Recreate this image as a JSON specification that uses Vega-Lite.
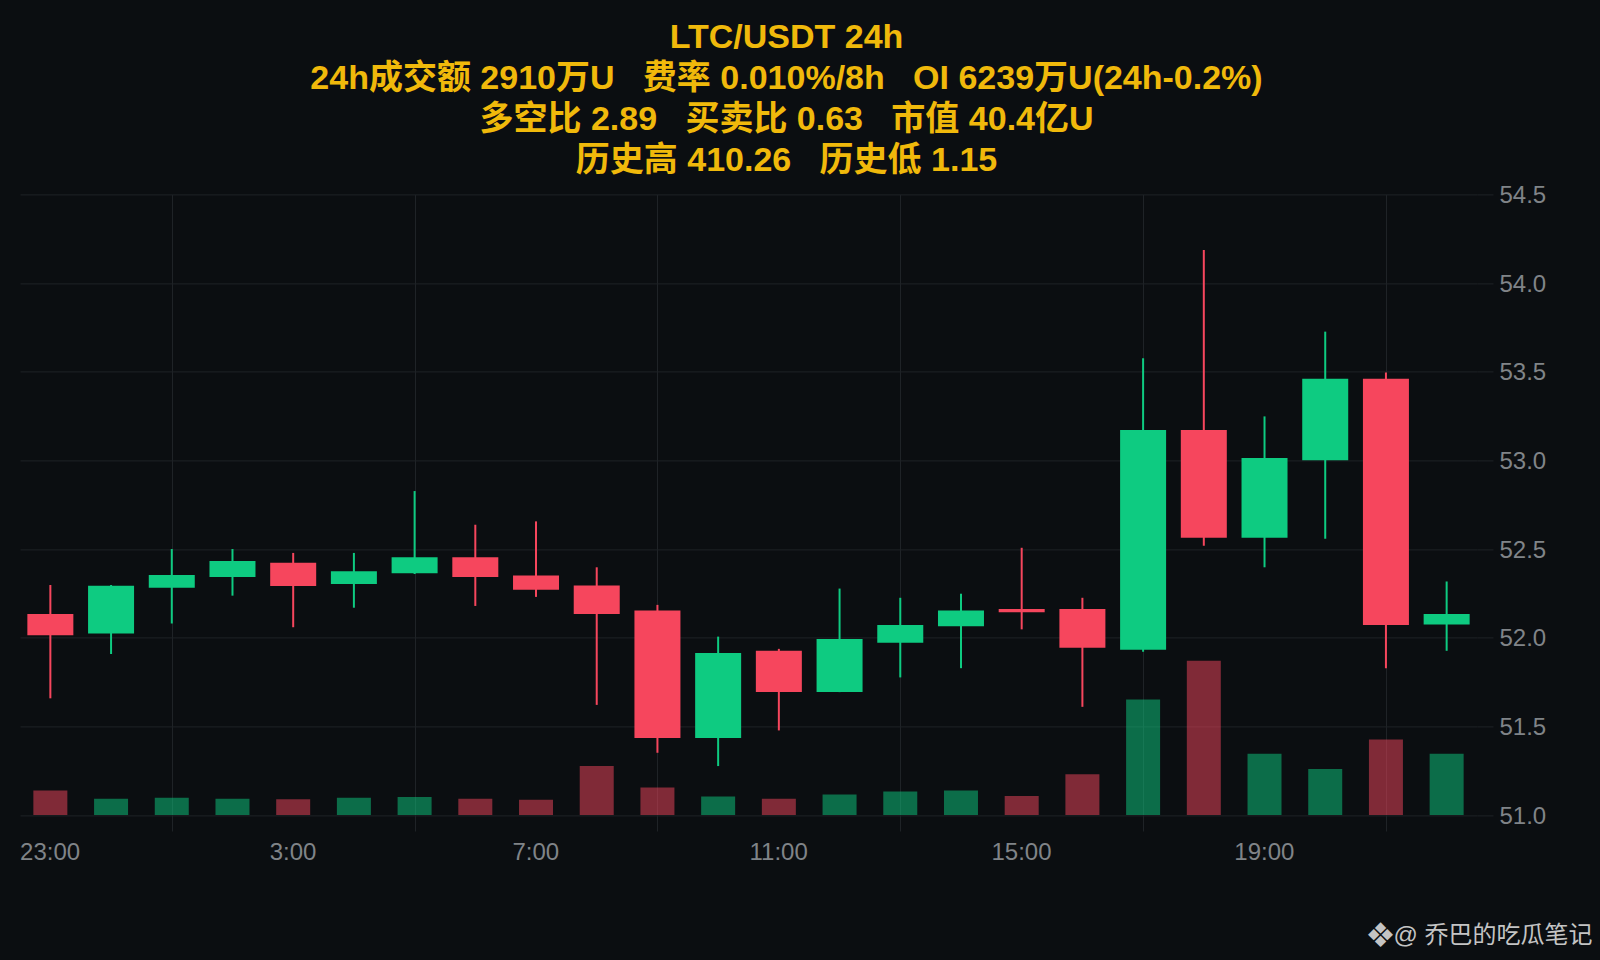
{
  "$schema": "https://vega.github.io/schema/vega-lite/v6.json",
  "width": 1457,
  "height": 620.6,
  "autosize": "none",
  "padding": {"left": 20, "top": 194.4, "right": 123, "bottom": 145},
  "background": "#0B0E11",
  "view": {"stroke": null},
  "config": {
    "font": "Liberation Sans, Noto Sans CJK SC, DejaVu Sans"
  },
  "title": {
    "text": [
      "LTC/USDT 24h",
      "24h成交额 2910万U\u00a0\u00a0\u00a0费率 0.010%/8h\u00a0\u00a0\u00a0OI 6239万U(24h-0.2%)",
      "多空比 2.89\u00a0\u00a0\u00a0买卖比 0.63\u00a0\u00a0\u00a0市值 40.4亿U",
      "历史高 410.26\u00a0\u00a0\u00a0历史低 1.15"
    ],
    "anchor": "middle",
    "frame": "group",
    "dx": 38,
    "offset": 5,
    "fontSize": 34,
    "fontWeight": "bold",
    "lineHeight": 41,
    "color": "#F0B90B"
  },
  "data": {
    "values": [
      {"t": "2024-01-01T23:00:00", "open": 52.134, "close": 52.014, "high": 52.297, "low": 51.658, "vol": 782, "dir": "down"},
      {"t": "2024-01-02T00:00:00", "open": 52.023, "close": 52.293, "high": 52.297, "low": 51.908, "vol": 522, "dir": "up"},
      {"t": "2024-01-02T01:00:00", "open": 52.282, "close": 52.354, "high": 52.5, "low": 52.08, "vol": 554, "dir": "up"},
      {"t": "2024-01-02T02:00:00", "open": 52.342, "close": 52.433, "high": 52.5, "low": 52.237, "vol": 522, "dir": "up"},
      {"t": "2024-01-02T03:00:00", "open": 52.423, "close": 52.292, "high": 52.478, "low": 52.059, "vol": 505, "dir": "down"},
      {"t": "2024-01-02T04:00:00", "open": 52.303, "close": 52.374, "high": 52.478, "low": 52.169, "vol": 554, "dir": "up"},
      {"t": "2024-01-02T05:00:00", "open": 52.363, "close": 52.453, "high": 52.827, "low": 52.359, "vol": 571, "dir": "up"},
      {"t": "2024-01-02T06:00:00", "open": 52.453, "close": 52.342, "high": 52.637, "low": 52.179, "vol": 522, "dir": "down"},
      {"t": "2024-01-02T07:00:00", "open": 52.351, "close": 52.271, "high": 52.656, "low": 52.23, "vol": 489, "dir": "down"},
      {"t": "2024-01-02T08:00:00", "open": 52.294, "close": 52.133, "high": 52.397, "low": 51.621, "vol": 1565, "dir": "down"},
      {"t": "2024-01-02T09:00:00", "open": 52.153, "close": 51.434, "high": 52.185, "low": 51.351, "vol": 880, "dir": "down"},
      {"t": "2024-01-02T10:00:00", "open": 51.434, "close": 51.914, "high": 52.006, "low": 51.276, "vol": 587, "dir": "up"},
      {"t": "2024-01-02T11:00:00", "open": 51.926, "close": 51.693, "high": 51.937, "low": 51.477, "vol": 522, "dir": "down"},
      {"t": "2024-01-02T12:00:00", "open": 51.693, "close": 51.992, "high": 52.277, "low": 51.693, "vol": 652, "dir": "up"},
      {"t": "2024-01-02T13:00:00", "open": 51.972, "close": 52.072, "high": 52.225, "low": 51.776, "vol": 750, "dir": "up"},
      {"t": "2024-01-02T14:00:00", "open": 52.064, "close": 52.153, "high": 52.248, "low": 51.828, "vol": 782, "dir": "up"},
      {"t": "2024-01-02T15:00:00", "open": 52.162, "close": 52.144, "high": 52.507, "low": 52.047, "vol": 603, "dir": "down"},
      {"t": "2024-01-02T16:00:00", "open": 52.162, "close": 51.943, "high": 52.225, "low": 51.61, "vol": 1304, "dir": "down"},
      {"t": "2024-01-02T17:00:00", "open": 51.932, "close": 53.171, "high": 53.576, "low": 51.92, "vol": 3684, "dir": "up"},
      {"t": "2024-01-02T18:00:00", "open": 53.171, "close": 52.564, "high": 54.186, "low": 52.518, "vol": 4923, "dir": "down"},
      {"t": "2024-01-02T19:00:00", "open": 52.564, "close": 53.013, "high": 53.248, "low": 52.397, "vol": 1956, "dir": "up"},
      {"t": "2024-01-02T20:00:00", "open": 53.001, "close": 53.461, "high": 53.726, "low": 52.558, "vol": 1467, "dir": "up"},
      {"t": "2024-01-02T21:00:00", "open": 53.461, "close": 52.072, "high": 53.496, "low": 51.828, "vol": 2412, "dir": "down"},
      {"t": "2024-01-02T22:00:00", "open": 52.075, "close": 52.133, "high": 52.317, "low": 51.926, "vol": 1956, "dir": "up"}
    ]
  },
  "resolve": {
    "scale": {"y": "independent"},
    "axis": {"x": "independent", "y": "independent"}
  },
  "layer": [
    {
      "mark": {"type": "bar", "width": 34, "opacity": 0.5},
      "encoding": {
        "x": {
          "field": "t",
          "type": "temporal",
          "scale": {
            "padding": 0,
            "domain": [
              {"year": 2024, "month": 1, "date": 1, "hours": 22, "minutes": 30},
              {"year": 2024, "month": 1, "date": 2, "hours": 22, "minutes": 30}
            ]
          },
          "axis": {
            "orient": "bottom",
            "values": [
              {"year": 2024, "month": 1, "date": 1, "hours": 23},
              {"year": 2024, "month": 1, "date": 2, "hours": 3},
              {"year": 2024, "month": 1, "date": 2, "hours": 7},
              {"year": 2024, "month": 1, "date": 2, "hours": 11},
              {"year": 2024, "month": 1, "date": 2, "hours": 15},
              {"year": 2024, "month": 1, "date": 2, "hours": 19}
            ],
            "format": "%-H:%M",
            "domain": false,
            "grid": false,
            "ticks": false,
            "labelPadding": 25,
            "labelOffset": -0.7,
            "labelFontSize": 24,
            "labelColor": "#808488",
            "labelOverlap": false,
            "labelFlush": false,
            "title": "@ 乔巴的吃瓜笔记",
            "titleFontSize": 24,
            "titleFontWeight": "normal",
            "titleColor": "#C4C4C4",
            "titleAlign": "right",
            "titleAnchor": null,
            "titleBaseline": "middle",
            "titleX": 1572,
            "titleY": 120
          }
        },
        "y": {
          "field": "vol",
          "type": "quantitative",
          "stack": null,
          "scale": {"domain": [0, 19800]},
          "axis": null
        },
        "color": {
          "field": "dir",
          "type": "nominal",
          "scale": {"domain": ["up", "down"], "range": ["#0ECB81", "#F6465D"]},
          "legend": null
        }
      }
    },
    {
      "encoding": {
        "x": {
          "field": "t",
          "type": "temporal",
          "axis": {
            "orient": "bottom",
            "values": [
              {"year": 2024, "month": 1, "date": 2, "hours": 1},
              {"year": 2024, "month": 1, "date": 2, "hours": 5},
              {"year": 2024, "month": 1, "date": 2, "hours": 9},
              {"year": 2024, "month": 1, "date": 2, "hours": 13},
              {"year": 2024, "month": 1, "date": 2, "hours": 17},
              {"year": 2024, "month": 1, "date": 2, "hours": 21}
            ],
            "domain": false,
            "labels": false,
            "grid": true,
            "gridColor": "#1F2327",
            "gridWidth": 1,
            "tickColor": "#1F2327",
            "tickSize": 16,
            "tickWidth": 1,
            "title": null
          }
        },
        "color": {
          "field": "dir",
          "type": "nominal",
          "legend": null
        }
      },
      "layer": [
        {
          "mark": {"type": "rule", "strokeWidth": 2},
          "encoding": {
            "y": {
              "field": "low",
              "type": "quantitative",
              "scale": {"domain": [51, 54.5]},
              "axis": {
                "orient": "right",
                "values": [51, 51.5, 52, 52.5, 53, 53.5, 54, 54.5],
                "format": ".1f",
                "domain": false,
                "grid": true,
                "gridColor": "#1F2327",
                "gridWidth": 1,
                "tickColor": "#1F2327",
                "tickSize": 16,
                "labelPadding": 6,
                "labelOffset": 1,
                "labelFontSize": 24,
                "labelColor": "#808488",
                "title": "❖",
                "titleFontSize": 34,
                "titleFontWeight": "normal",
                "titleFont": "DejaVu Sans",
                "titleColor": "#C4C4C4",
                "titleAngle": 0,
                "titleAlign": "center",
                "titleBaseline": "middle",
                "titleAnchor": null,
                "titleX": -97,
                "titleY": 742
              }
            },
            "y2": {"field": "high"}
          }
        },
        {
          "mark": {"type": "bar", "width": 46},
          "encoding": {
            "y": {"field": "open", "type": "quantitative"},
            "y2": {"field": "close"}
          }
        }
      ]
    }
  ]
}
